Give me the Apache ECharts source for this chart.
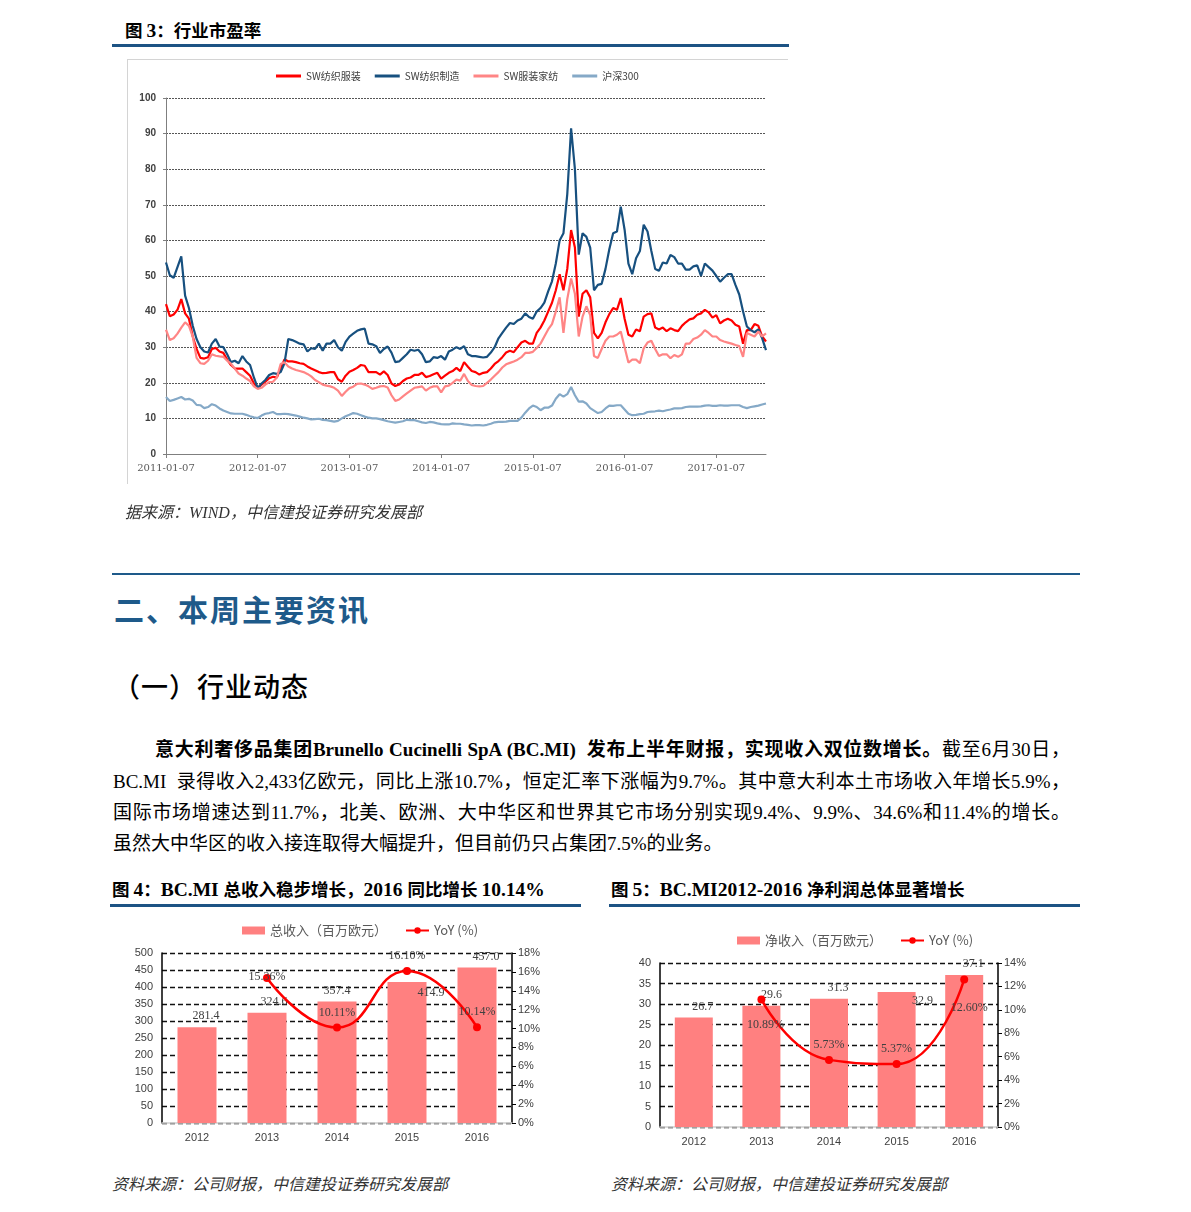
<!DOCTYPE html>
<html>

<head>
    <meta charset="utf-8" />
    <script src="https://cdn.jsdelivr.net/npm/echarts@6/dist/echarts.min.js"></script>
    <style>
        body { margin: 0; background: #fff; }
        #page { position: relative; width: 1191px; height: 1212px; overflow: hidden; color: #000;
                font-family: "Liberation Serif", "Noto Sans CJK SC", serif; }
        .abs { position: absolute; white-space: nowrap; }
        .fig { font-family: "Noto Sans CJK SC"; font-weight: bold; font-size: 17.5px; line-height: 24px; }
        .fig .lt { font-family: "Liberation Serif"; font-size: 19.5px; }
        .rule { position: absolute; background: #1D5384; }
        .src { font-family: "Noto Sans CJK SC"; font-style: italic; font-size: 16px; line-height: 22px; color: #333; }
        .src .lt { font-family: "Liberation Serif"; }
        .para { position: absolute; font-size: 19px; line-height: 31px; text-align: justify; text-align-last: justify; }
        .para .cj { font-family: "Noto Sans CJK SC"; }
    </style>
</head>

<body>
<div id="page">
    <!-- 图3 -->
    <div class="abs fig" style="left:125px; top:18px;">图 <span class="lt">3</span>：行业市盈率</div>
    <div class="rule" style="left:112px; top:44px; width:677px; height:3px;"></div>
    <div class="abs" style="left:127px; top:59px; width:660px; height:424px; border-left:1px solid #d4d4d4; border-top:1px solid #d4d4d4;"></div>
    <div id="c1" class="abs" style="left:0; top:50px; width:800px; height:450px;"></div>
    <div class="abs src" style="left:125px; top:500px;">据来源：<span class="lt">WIND</span>，中信建投证券研究发展部</div>

    <!-- 正文 -->
    <div class="rule" style="left:112px; top:573px; width:968px; height:2px; background:#1E5A8A;"></div>
    <div class="abs" style="left:114px; top:588px; font-family:'Noto Sans CJK SC'; font-weight:bold; font-size:30px; letter-spacing:2px; line-height:40px; color:#1E5A8A;">二、本周主要资讯</div>
    <div class="abs" style="left:113px; top:667px; font-family:'Noto Sans CJK SC'; font-weight:500; font-size:27px; letter-spacing:1px; line-height:38px;">（一）行业动态</div>

    <div class="para" style="left:155px; top:732px; width:915px;"><b><span class="cj">意大利奢侈品集团</span>Brunello Cucinelli SpA (BC.MI)&nbsp; <span class="cj">发布上半年财报，实现收入双位数增长。</span></b><span class="cj">截至</span>6<span class="cj">月</span>30<span class="cj">日，</span></div>
    <div class="para" style="left:113px; top:764px; width:957px;">BC.MI&nbsp; <span class="cj">录得收入</span>2,433<span class="cj">亿欧元，同比上涨</span>10.7%<span class="cj">，恒定汇率下涨幅为</span>9.7%<span class="cj">。其中意大利本土市场收入年增长</span>5.9%<span class="cj">，</span></div>
    <div class="para" style="left:113px; top:795px; width:957px;"><span class="cj">国际市场增速达到</span>11.7%<span class="cj">，北美、欧洲、大中华区和世界其它市场分别实现</span>9.4%<span class="cj">、</span>9.9%<span class="cj">、</span>34.6%<span class="cj">和</span>11.4%<span class="cj">的增长。</span></div>
    <div class="para" style="left:113px; top:826px; width:957px; text-align:left; text-align-last:left;"><span class="cj">虽然大中华区的收入接连取得大幅提升，但目前仍只占集团</span>7.5%<span class="cj">的业务。</span></div>

    <!-- 图4 / 图5 -->
    <div class="abs fig" style="left:112px; top:877px;">图 <span class="lt">4</span>：<span class="lt">BC.MI </span>总收入稳步增长，<span class="lt">2016 </span>同比增长 <span class="lt">10.14%</span></div>
    <div class="rule" style="left:110px; top:904px; width:471px; height:3px;"></div>
    <div class="abs fig" style="left:611px; top:877px;">图 <span class="lt">5</span>：<span class="lt">BC.MI2012-2016 </span>净利润总体显著增长</div>
    <div class="rule" style="left:609px; top:904px; width:471px; height:3px;"></div>

    <div id="c4" class="abs" style="left:110px; top:915px; width:480px; height:240px;"></div>
    <div id="c5" class="abs" style="left:605px; top:915px; width:480px; height:240px;"></div>

    <div class="abs src" style="left:112px; top:1172px;">资料来源：公司财报，中信建投证券研究发展部</div>
    <div class="abs src" style="left:611px; top:1172px;">资料来源：公司财报，中信建投证券研究发展部</div>
</div>

<script type="text/javascript">
    // 图3 数据：2011-01-07 起，每半个月一个点
    var seriesNames = ['SW纺织服装', 'SW纺织制造', 'SW服装家纺', '沪深300'];
    var yearLabels = ['2011', '2012', '2013', '2014', '2015', '2016', '2017'];

    var fzVals = [ // SW纺织服装
        42.1, 38.7, 39.2, 40.5, 43.5, 39.5, 38, 33, 29.5, 27,
        26.8, 27.2, 29.5, 29.8, 28.8, 28.4, 26.5, 25, 24, 24,
        24, 23, 22, 19.8, 18.6, 19.5, 20.3, 21.3, 21.7, 21.5,
        24, 26.6, 26, 26, 25.8, 25.5, 25.3, 24.6, 24, 23.5,
        23, 22.7, 22.8, 23, 23, 21, 20.3, 22, 23.1, 23.6,
        24.2, 25, 24.8, 23, 23, 23, 22.3, 23.2, 22.2, 19.8,
        19.1, 19.5, 20.5, 21.2, 21.5, 22.2, 22.2, 22.8, 21.6, 21.9,
        22.4, 22.8, 21.2, 22, 22.8, 23.3, 24.2, 23.3, 25.8, 24.5,
        23.3, 23, 22.3, 22.8, 23, 24, 25.3, 26.1, 27.2, 28.5,
        29, 28.6, 30, 31.3, 31.8, 31, 31, 34, 35.5, 37.5,
        40, 42.5, 46, 50.5, 46, 52, 62.9, 58, 38.6, 45,
        46, 44, 34, 32.5, 34, 37, 39.3, 41, 40.5, 43.8,
        38, 33.5, 33, 35, 34.5, 38.6, 39.3, 39.5, 35.5, 35,
        35.5, 34.5, 35.3, 34.8, 34.5, 36, 37, 37.8, 38.1, 39.1,
        39.5, 40.5, 39.8, 38.3, 39, 36.7, 37.5, 38, 37.5, 36.3,
        35.8, 31, 34.8, 34.8, 36.5, 36, 33, 31.6
    ];
    var zzVals = [ // SW纺织制造
        53.8, 50.2, 49.5, 52.5, 55.5, 44.5, 41, 36, 32.3, 30,
        28.8, 28.5, 31, 32.3, 30.2, 30, 28, 25.8, 26.2, 25.5,
        27.5, 26, 25, 21.5, 18.5, 19.8, 20.8, 22.2, 22.7, 22.5,
        23, 25.5, 32.3, 32, 31.5, 31, 30.8, 28.8, 29.7, 29.5,
        31, 29, 31, 31, 32, 30, 29, 31.5, 33, 33.8,
        34.6, 35, 35.2, 31, 30.8, 30.3, 28.4, 29.5, 30.2, 28.5,
        25.8, 26, 27, 28, 29.3, 29, 29.3, 28, 25.8, 26,
        27.2, 27, 27.5, 26.5, 28.8, 29.3, 30, 29.5, 30.3, 28,
        27.5, 27.5, 27.3, 27.1, 27.3, 28.5, 30, 32.5, 34, 35.5,
        36.8, 36.5, 37.5, 38, 39.5, 38.5, 38, 40, 41, 42.5,
        45.7, 48.5, 53.5, 60, 62, 73, 91.5, 80, 56, 62,
        61, 58, 46, 47.5, 47.8, 52, 57.5, 62, 62.5, 69.5,
        63, 53.5, 50.5, 55, 57, 64.4, 62.5, 57, 52, 51.5,
        53.8, 53.5, 55.9, 55.3, 53.5, 53.5, 51.8, 51.8, 52.7, 53,
        50, 53.5, 52.5, 51.5, 50, 48.4, 49.5, 50.5, 50.5, 47.5,
        44.8, 40, 35.8, 34.8, 34.2, 35, 32.5, 29.2
    ];
    var jfVals = [ // SW服装家纺
        34.9, 32, 32.5, 33.8, 35.5, 37, 36, 33, 27, 25.5,
        25.3, 26.2, 28, 27.6, 27.4, 27.3, 26.2, 25.4, 24, 22.6,
        22, 21.2, 20.5, 19, 18.3, 18.6, 19.5, 20.2, 20.3, 21.5,
        25.3, 25.8, 24.6, 24, 23.6, 23.3, 23, 22.5, 21.8, 20.8,
        20.2, 19.5, 19.2, 19, 18.6, 17.8, 16.3, 17.5, 18.5, 18.9,
        19.7, 19.8, 19.5, 19, 18.3, 18.6, 19, 19.1, 18.7, 16.5,
        14.9, 15.3, 16.2, 17, 17.8, 18.6, 18.8, 19, 17.8, 18.6,
        19, 19, 17.3, 19, 19.2, 20, 20.9, 20.6, 22.5, 20.5,
        19.4, 19.1, 19, 19.1, 20, 20.9, 22, 23, 24.3, 25.2,
        25.6, 26, 26.5, 27.2, 28.4, 28.4, 28.7, 29.8, 31, 33,
        35, 36.5, 40, 44, 34, 43.5, 49.3, 45, 33, 38.6,
        41.5, 39, 27.5, 27, 29.5, 31.8, 33, 33, 33.5, 34.4,
        30, 25.7, 26.5, 26.5, 25.5, 29.7, 31.3, 31.8, 29.5, 27.5,
        28, 28, 26.9, 27.8, 27.3, 28, 31, 31, 32.3, 32.7,
        33.5, 34.8, 34, 33, 33, 32, 31.6, 31.3, 31, 30.6,
        30.3, 27.3, 34, 33.5, 33, 34.4, 33, 33.9
    ];
    var hsVals = [ // 沪深300
        16, 14.9, 15.2, 15.6, 16, 15.3, 15.5, 15, 13.8, 13.7,
        12.9, 13.2, 14, 13.6, 12.8, 12.2, 11.8, 11.4, 11.3, 11.3,
        11.3, 11, 10.6, 10.3, 10.1, 10.8, 11.3, 11.5, 11.8, 11.2,
        11.2, 11.3, 11.2, 11, 10.8, 10.5, 10.2, 10, 9.7, 9.8,
        9.9, 9.6, 9.5, 9.3, 9.1, 9.3, 10, 10.6, 11, 11.5,
        11.3, 10.9, 10.5, 10.2, 10, 10, 9.8, 9.5, 9.2, 9,
        8.8, 9, 9.2, 9.6, 9.5, 9.5, 9.2, 8.9, 8.7, 9,
        8.9, 8.6, 8.4, 8.3, 8.3, 8.6, 8.5, 8.5, 8.3, 8.2,
        8, 8.1, 8.1, 8, 8.2, 8.5, 8.9, 9, 9, 9.1,
        9.3, 9.3, 9.3, 10.2, 11.6, 12.8, 13.6, 13.2, 12.3, 13,
        13, 13.6, 15.5, 16.8, 16.1, 16.8, 18.8, 16.5, 14.7, 14.8,
        14.2, 12.9, 12.2, 11.5, 11.8, 12.8, 13.6, 13.5, 13.7, 13.7,
        12.5, 11.3, 10.9, 11, 11.2, 11.3, 11.8, 11.9, 12, 12.2,
        12, 12.3, 12.5, 12.8, 12.8, 12.9, 13.2, 13.3, 13.3, 13.3,
        13.4, 13.6, 13.7, 13.5, 13.5, 13.7, 13.6, 13.6, 13.7, 13.7,
        13.7, 13.2, 12.9, 13.2, 13.4, 13.6, 13.9, 14.2
    ];

    // 图4 / 图5 数据
    var years = ['2012', '2013', '2014', '2015', '2016'];
    var revenue = [281.4, 324.6, 357.4, 414.9, 457.0];
    var revenueYoy = [null, 15.36, 10.11, 16.10, 10.14];
    var netIncome = [26.7, 29.6, 31.3, 32.9, 37.1];
    var netIncomeYoy = [null, 10.89, 5.73, 5.37, 12.60];

    // ---------- 图3 ----------
    var startYear = 2011;
    function toXY(arr) {
        return arr.map(function (v, i) { return [startYear + i / 24, v]; });
    }
    var lineColors = ['#FF0000', '#17507F', '#FF8585', '#85A9C7'];
    var chart1 = echarts.init(document.getElementById('c1'));
    chart1.setOption({
        animation: false,
        textStyle: { fontFamily: 'Liberation Sans' },
        legend: {
            left: 271,
            top: 16,
            icon: 'rect',
            itemWidth: 25,
            itemHeight: 3,
            itemGap: 14,
            textStyle: { color: '#404040', fontSize: 10, fontFamily: 'Noto Sans CJK SC' },
            data: seriesNames
        },
        grid: { left: 166, top: 48, width: 600, height: 356 },
        xAxis: {
            type: 'value',
            min: startYear,
            max: startYear + (fzVals.length - 1) / 24,
            interval: 1,
            axisLine: { lineStyle: { color: '#7f7f7f' } },
            axisTick: { show: true, length: 4, lineStyle: { color: '#7f7f7f' } },
            axisLabel: {
                color: '#595959', fontSize: 10, fontFamily: 'DejaVu Serif', margin: 9,
                formatter: function (v) { return yearLabels[Math.round(v - startYear)] + '-01-07'; }
            },
            splitLine: { show: false }
        },
        yAxis: {
            type: 'value',
            min: 0,
            max: 100,
            interval: 10,
            axisLine: { show: true, lineStyle: { color: '#7f7f7f' } },
            axisTick: { show: true, length: 3, lineStyle: { color: '#7f7f7f' } },
            axisLabel: { color: '#404040', fontSize: 10, fontWeight: 'bold', margin: 10 },
            splitLine: { lineStyle: { color: '#555', type: [2, 1], width: 1 } }
        },
        series: [fzVals, zzVals, jfVals, hsVals].map(function (vals, k) {
            return {
                name: seriesNames[k],
                type: 'line',
                showSymbol: false,
                color: lineColors[k],
                lineStyle: { width: 2.2, color: lineColors[k] },
                data: toXY(vals)
            };
        })
    });

    // ---------- 图4 / 图5 ----------
    function barLineOption(cfg) {
        return {
            animation: false,
            textStyle: { fontFamily: 'Liberation Sans' },
            legend: {
                left: 127,
                top: cfg.legendTop,
                itemWidth: 23,
                itemHeight: 8,
                itemGap: 18,
                textStyle: { color: '#595959', fontSize: 13, fontFamily: 'Noto Sans CJK SC' },
                data: [{ name: cfg.barName, icon: 'rect' }, { name: 'YoY (%)' }]
            },
            grid: cfg.grid,
            xAxis: {
                type: 'category',
                data: years,
                axisLine: { lineStyle: { color: '#d0d0d0', width: 1.5 } },
                axisTick: { show: false },
                axisLabel: { color: '#404040', fontSize: 11, margin: 9 }
            },
            yAxis: [
                {
                    type: 'value', min: 0, max: cfg.leftMax, interval: cfg.leftStep,
                    axisLine: { show: true, lineStyle: { color: '#000', width: 1.5 } },
                    axisTick: { show: false },
                    axisLabel: { color: '#404040', fontSize: 11, margin: 9 },
                    splitLine: { lineStyle: { color: '#111', type: [5, 3], width: 1.3 } }
                },
                {
                    type: 'value', min: 0, max: cfg.rightMax, interval: 2, position: 'right',
                    axisLine: { show: true, lineStyle: { color: '#000', width: 1.5 } },
                    axisTick: { show: true, length: 4, lineStyle: { color: '#000' } },
                    axisLabel: { color: '#404040', fontSize: 11, margin: 6, formatter: '{value}%' },
                    splitLine: { show: false }
                }
            ],
            series: [
                {
                    name: cfg.barName,
                    type: 'bar',
                    barWidth: cfg.barWidth,
                    itemStyle: { color: '#FF8080' },
                    label: {
                        show: true, position: 'top', color: '#404040', fontSize: 12,
                        fontFamily: 'Liberation Serif',
                        formatter: function (p) { return p.value.toFixed(1); }
                    },
                    data: cfg.bars.map(function (v, i) {
                        return { value: v, label: { offset: cfg.barLabelOffsets[i] } };
                    })
                },
                {
                    name: 'YoY (%)',
                    type: 'line',
                    yAxisIndex: 1,
                    smooth: 0.5,
                    symbol: 'circle',
                    symbolSize: 8,
                    color: '#FF0000',
                    lineStyle: { width: 2.5, color: '#FF0000' },
                    itemStyle: { color: '#FF0000' },
                    label: {
                        show: true, color: '#404040', fontSize: 12, fontFamily: 'Liberation Serif',
                        formatter: function (p) { return p.value.toFixed(2) + '%'; }
                    },
                    data: cfg.yoy.map(function (v, i) {
                        if (v === null) return '-';
                        return { value: v, label: cfg.yoyLabels[i] };
                    })
                }
            ]
        };
    }

    var chart4 = echarts.init(document.getElementById('c4'));
    chart4.setOption(barLineOption({
        barName: '总收入（百万欧元）',
        legendTop: 4,
        grid: { left: 52, top: 38, width: 350, height: 170 },
        leftMax: 500, leftStep: 50, rightMax: 18,
        barWidth: 39,
        bars: revenue,
        barLabelOffsets: [[9, 0], [7, 0], [0, 0], [24, 22], [9, 0]],
        yoy: revenueYoy,
        yoyLabels: [null, { position: 'top', offset: [0, 14] }, { position: 'top' }, { position: 'top' }, { position: 'top' }]
    }));

    var chart5 = echarts.init(document.getElementById('c5'));
    chart5.setOption(barLineOption({
        barName: '净收入（百万欧元）',
        legendTop: 14,
        grid: { left: 55, top: 48, width: 338, height: 164 },
        leftMax: 40, leftStep: 5, rightMax: 14,
        barWidth: 38,
        bars: netIncome,
        barLabelOffsets: [[9, 0], [10, 0], [9, 0], [26, 20], [9, 0]],
        yoy: netIncomeYoy,
        yoyLabels: [null, { position: 'bottom', offset: [4, 10] }, { position: 'top' }, { position: 'top' }, { position: 'bottom', offset: [5, 13] }]
    }));
</script>
</body>

</html>
